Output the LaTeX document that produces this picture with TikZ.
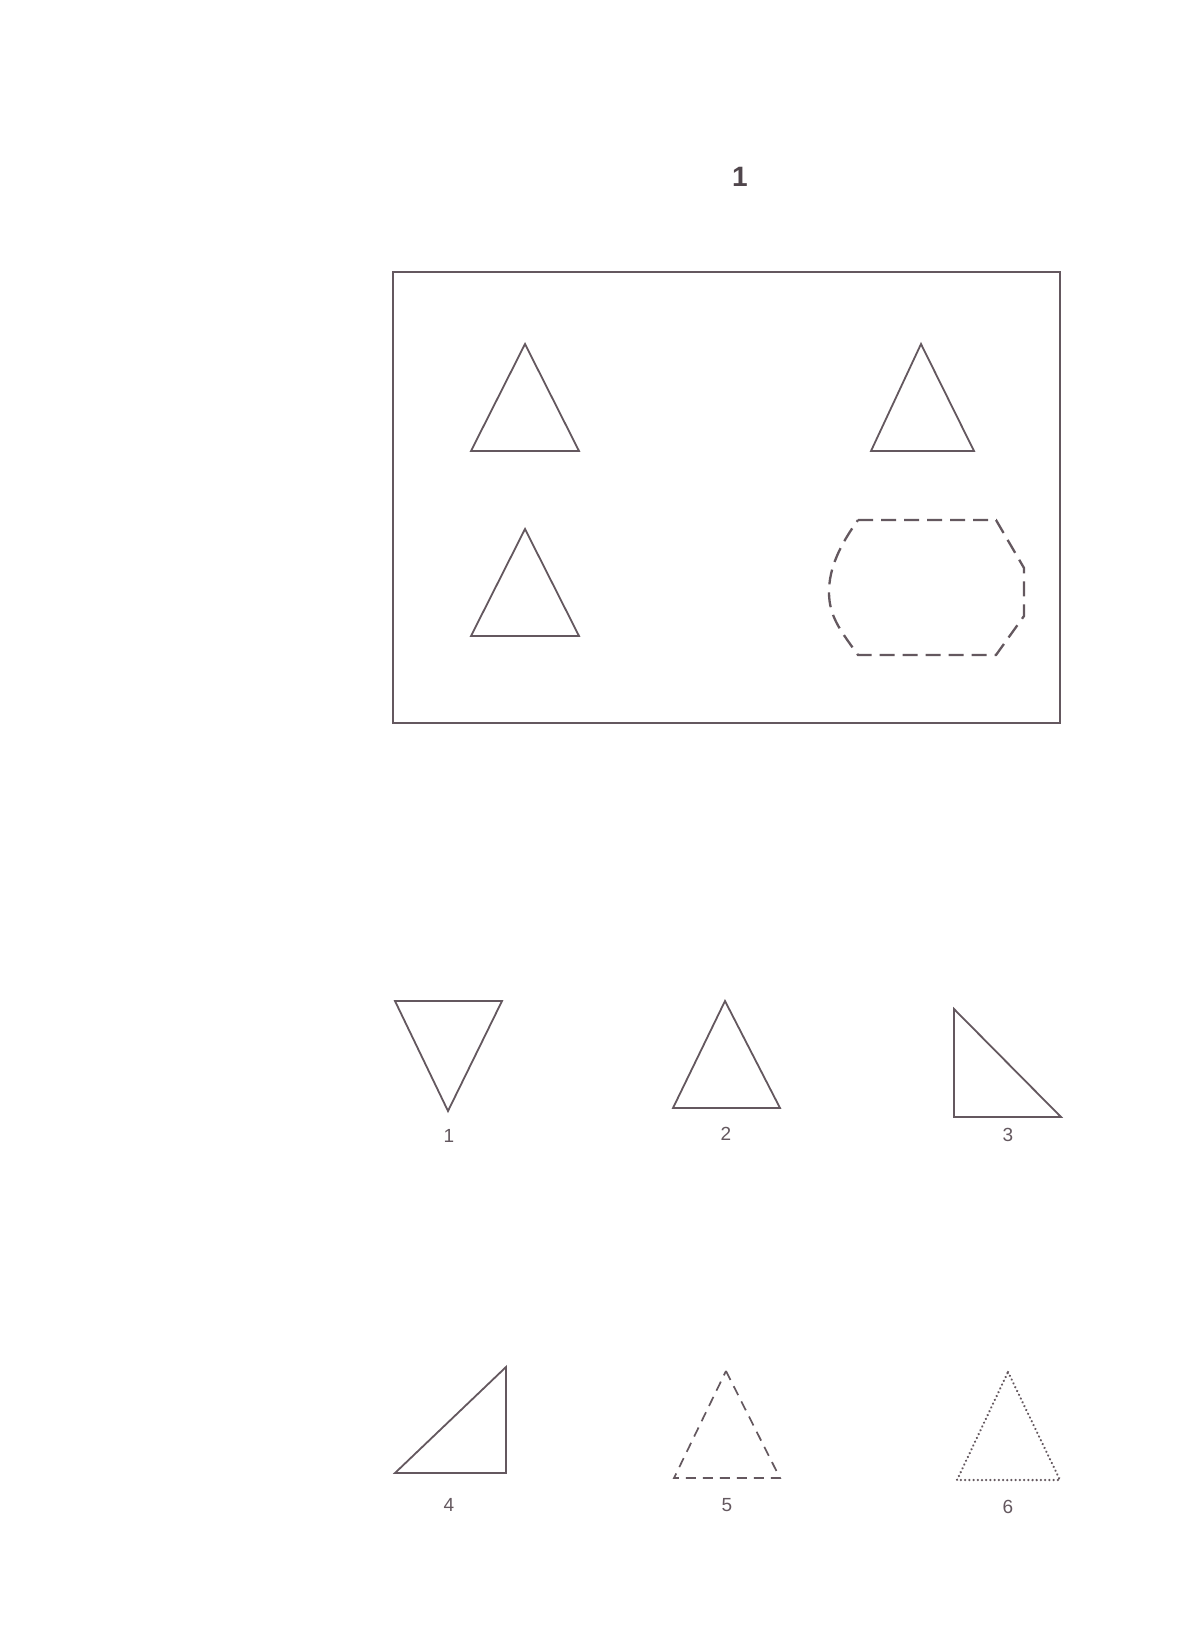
\documentclass[tikz,border=0pt]{standalone}
\usepackage{fontspec}
\setmainfont{Liberation Sans}
\begin{document}
\begin{tikzpicture}[x=1pt,y=-1pt,
  ink/.style={draw={rgb,255:red,100;green,88;blue,95}, line width=1.8pt, line join=miter},
  dashline/.style={ink, line width=2.3pt, dash pattern=on 15pt off 8pt},
  smalldash/.style={ink, line width=1.7pt, dash pattern=on 10pt off 7pt},
  dotline/.style={ink, line width=2.5pt, line cap=round, dash pattern=on 0.01pt off 4.2pt},
  lbl/.style={text={rgb,255:red,100;green,88;blue,95}, font=\fontsize{19}{19}\selectfont, inner sep=0pt},
  ttl/.style={text={rgb,255:red,80;green,70;blue,76}, font=\bfseries\fontsize{28}{28}\selectfont, inner sep=0pt}]
\useasboundingbox (0,0) rectangle (1200,1650);
\fill[white] (0,0) rectangle (1200,1650);
% title
\node[ttl] (title) at (740,177) {1};
% frame
\draw[ink] (393,272) rectangle (1060,723);
% triangles inside frame
\draw[ink] (525,344) -- (579,451) -- (471,451) -- cycle;
\draw[ink] (921,344) -- (974,451) -- (871,451) -- cycle;
\draw[ink] (525,529) -- (579,636) -- (471,636) -- cycle;
% dashed missing piece
\draw[dashline] (858,520) -- (996,520) -- (1024,568) -- (1024,616) -- (996,655) -- (858,655)
  .. controls (840,630) and (829,616) .. (829,592) .. controls (829,568) and (840,545) .. cycle;
% options row 1
\draw[ink] (395,1001) -- (502,1001) -- (448,1111) -- cycle;
\node[lbl] (l1) at (449,1136) {1};
\draw[ink] (725,1001) -- (780,1108) -- (673,1108) -- cycle;
\node[lbl] (l2) at (726,1134) {2};
\draw[ink] (954,1009) -- (1061,1117) -- (954,1117) -- cycle;
\node[lbl] (l3) at (1008,1135) {3};
% options row 2
\draw[ink] (506,1367) -- (506,1473) -- (395,1473) -- cycle;
\node[lbl] (l4) at (449,1505) {4};
\draw[smalldash] (726,1371) -- (780,1478) -- (674,1478) -- cycle;
\node[lbl] (l5) at (727,1505) {5};
\draw[dotline] (1008,1372) -- (1060,1480) -- (957,1480) -- cycle;
\node[lbl] (l6) at (1008,1507) {6};
\end{tikzpicture}
\end{document}
